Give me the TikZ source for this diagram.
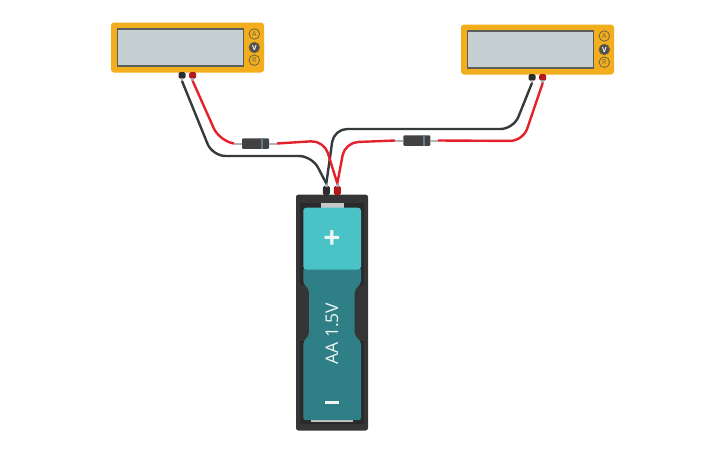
\documentclass[tikz,border=0pt]{standalone}
\usepackage{fontspec}
\setmainfont{Open Sans}
\definecolor{mgold}{HTML}{F2AE1C}
\definecolor{mscreen}{HTML}{C6D0D2}
\definecolor{mframe}{HTML}{5A5F5C}
\definecolor{mdark}{HTML}{4F4F4F}
\definecolor{wblack}{HTML}{353A3D}
\definecolor{wred}{HTML}{E4202A}
\definecolor{pblack}{HTML}{2D2D2D}
\definecolor{pred}{HTML}{B3191F}
\definecolor{tealL}{HTML}{4AC3C7}
\definecolor{tealD}{HTML}{2F7F86}
\definecolor{holder}{HTML}{353535}
\definecolor{holderin}{HTML}{2A2A2A}
\definecolor{bandc}{HTML}{5F7D8C}
\tikzset{
    box/.style={rectangle, inner sep=0pt, outer sep=0pt},
    meter/.style={box, fill=mgold, minimum width=153pt, minimum height=50pt, rounded corners=3pt},
    screen/.style={box, fill=mscreen, draw=mframe, line width=1.6pt, minimum width=126pt, minimum height=37pt},
    knob/.style={circle, inner sep=0pt, minimum size=10.5pt, draw=mdark!80!mgold, line width=.8pt, text=mdark!80!mgold, font=\fontsize{7}{7}\selectfont},
    knobon/.style={knob, fill=mdark, text=white, font=\fontsize{7}{7}\selectfont\bfseries},
    post/.style={box, minimum width=7pt, minimum height=6.5pt, rounded corners=1.5pt},
    tip/.style={box, fill=gray!70, minimum width=2.6pt, minimum height=3pt},
    wire/.style={line width=2.4pt, rounded corners=13pt},
    diode/.style={box, fill=pblack!90!white, minimum width=27pt, minimum height=10.5pt, rounded corners=1pt},
    band/.style={box, fill=bandc, minimum width=2.2pt, minimum height=10.5pt},
    lead/.style={line width=2pt, gray!60},
    battext/.style={inner sep=0pt, text=white!92!tealD},
}
\newcommand{\meter}[3]{
    \node[meter] (#1) at (#2,#3) {};
    \node[screen] (#1-lcd) at (#2-7,#3) {};
    \node[knob] (#1-a) at (#2+66.8,#3-13.5) {A};
    \node[knobon] (#1-v) at (#2+66.8,#3) {V};
    \node[knob] (#1-r) at (#2+66.8,#3+12.7) {R};
    \node[post, fill=pblack] (#1-blk) at (#2-5.5,#3+27.8) {};
    \node[post, fill=pred] (#1-red) at (#2+5.2,#3+27.8) {};
    \node[tip] (#1-bt) at (#2-5.5,#3+32) {};
    \node[tip] (#1-rt) at (#2+5.2,#3+32) {};
}
\begin{document}
\begin{tikzpicture}[x=1pt, y=-1pt]
    \useasboundingbox (0,0) rectangle (725,453);

    \meter{mL}{187.5}{47.5}
    \meter{mR}{537.5}{49.5}

    % battery holder
    \node[box, fill=holder, minimum width=72pt, minimum height=236pt, rounded corners=2.5pt] (bat) at (332,312.5) {};
    \node[box, fill=holderin, minimum width=64pt, minimum height=221pt] (batin) at (332,313.5) {};
    \node[box, fill=holder, minimum width=16pt, minimum height=56pt] (batl) at (304,313) {};
    \node[box, fill=holder, minimum width=16pt, minimum height=56pt] (batr) at (360,313) {};
    \node[box, fill=gray!45, minimum width=23pt, minimum height=6pt] (capT) at (332,205.5) {};
    \node[box, fill=gray!45, minimum width=42pt, minimum height=3pt] (capB) at (331.7,420.5) {};

    % cell, two tones
    \fill[tealD, rounded corners=2pt] (303.3,268) -- (303.3,283) -- (309,290) -- (309,335) -- (303.3,342)
        -- (303.3,420) -- (361,420) -- (361,342) -- (354.7,335) -- (354.7,290) -- (361,283) -- (361,268) -- cycle;
    \fill[tealL, rounded corners=3pt] (303.3,269.5) -- (303.3,207.7) -- (361,207.7) -- (361,269.5) -- cycle;
    \node[battext, font=\fontsize{30}{30}\selectfont\bfseries] (plus) at (332,239.5) {+};
    \node[battext, font=\fontsize{17.5}{17.5}\selectfont, rotate=90] (name) at (332,333.5) {AA 1.5V};
    \node[box, fill=white!92!tealD, minimum width=14pt, minimum height=2.6pt] (minus) at (332,402.5) {};

    % battery posts
    \node[post, fill=pblack, minimum height=9pt] (bat-blk) at (326.3,190.5) {};
    \node[post, fill=pred, minimum height=9pt] (bat-red) at (337.3,190.5) {};
    \node[tip] (bat-bt) at (326.3,185) {};
    \node[tip] (bat-rt) at (337.3,185) {};

    % diodes
    \node[diode] (d1) at (255.5,143.5) {};
    \node[band] (d1-b) at (261.8,143.5) {};
    \node[diode] (d2) at (416.8,140.5) {};
    \node[band] (d2-b) at (424.3,140.5) {};
    \coordinate (d1-in) at (234,143.5);
    \coordinate (d1-out) at (277,143.5);
    \coordinate (d2-in) at (438,140.5);
    \coordinate (d2-out) at (395,140.5);
    \draw[lead] (d1-in) -- (d1.west);
    \draw[lead] (d1.east) -- (d1-out);
    \draw[lead] (d2-out) -- (d2.west);
    \draw[lead] (d2.east) -- (d2-in);

    % wires
    \draw[wire, wblack] (mL-bt.south) -- (212.5,156) -- (312,156) -- (bat-bt.north);
    \draw[wire, wblack] (mR-bt.south) -- (513.5,129) -- (334,129) -- (bat-bt.north);
    \draw[wire, wred] (mL-rt.south) -- (219,140) -- (d1-in);
    \draw[wire, wred] (d1-out) -- (324,140.5) -- (bat-rt.north);
    \draw[wire, wred] (mR-rt.south) -- (523,141) -- (d2-in);
    \draw[wire, wred] (d2-out) -- (345,142.5) -- (bat-rt.north);
\end{tikzpicture}
\end{document}
